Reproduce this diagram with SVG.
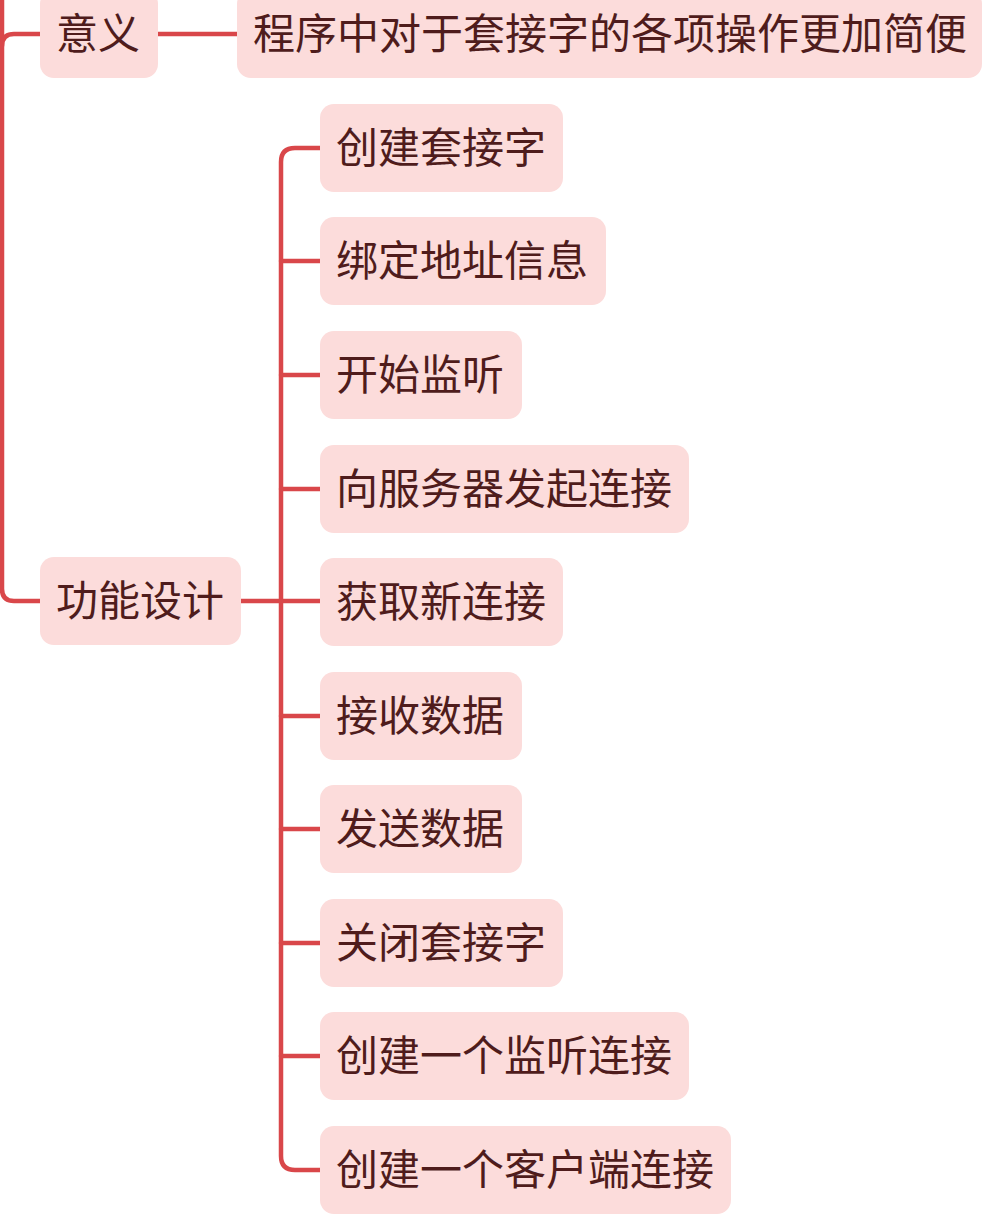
<svg xmlns="http://www.w3.org/2000/svg" width="1000" height="1228" viewBox="0 0 1000 1228">
<style>
.box{fill:#fcdcdb;}
.t{font-family:"Noto Sans CJK SC","Noto Sans",sans-serif;font-size:42px;fill:#4f1c1c;}
.ln{fill:none;stroke:#d9474a;stroke-width:4.5;stroke-linecap:round;}
</style>
<rect width="1000" height="1228" fill="#ffffff"/>
<g id="connectors">
<path class="ln" d="M2,-5 V589 Q2,601 14,601 H40"/>
<path class="ln" d="M2,46 Q2,34 14,34 H40"/>
<path class="ln" d="M158,34 H237"/>
<path class="ln" d="M241,601 H320"/>
<path class="ln" d="M320,148 H295 Q281,148 281,162 V1156 Q281,1170 295,1170 H320"/>
<path class="ln" d="M281,261 H320"/>
<path class="ln" d="M281,375 H320"/>
<path class="ln" d="M281,489 H320"/>
<path class="ln" d="M281,716 H320"/>
<path class="ln" d="M281,829 H320"/>
<path class="ln" d="M281,943 H320"/>
<path class="ln" d="M281,1056 H320"/>
</g>
<g id="n-yiyi"><rect class="box" x="40" y="-10" width="118" height="88" rx="14"/><text class="t" x="56" y="49">意义</text></g>
<g id="n-yiyi-desc"><rect class="box" x="237" y="-10" width="745" height="88" rx="14"/><text class="t" x="253" y="49">程序中对于套接字的各项操作更加简便</text></g>
<g id="n-gongneng"><rect class="box" x="40" y="557" width="201" height="88" rx="14"/><text class="t" x="56" y="616">功能设计</text></g>
<g id="n1"><rect class="box" x="320" y="104" width="243" height="88" rx="14"/><text class="t" x="336" y="163">创建套接字</text></g>
<g id="n2"><rect class="box" x="320" y="217" width="286" height="88" rx="14"/><text class="t" x="336" y="276">绑定地址信息</text></g>
<g id="n3"><rect class="box" x="320" y="331" width="202" height="88" rx="14"/><text class="t" x="336" y="390">开始监听</text></g>
<g id="n4"><rect class="box" x="320" y="445" width="369" height="88" rx="14"/><text class="t" x="336" y="504">向服务器发起连接</text></g>
<g id="n5"><rect class="box" x="320" y="558" width="243" height="88" rx="14"/><text class="t" x="336" y="617">获取新连接</text></g>
<g id="n6"><rect class="box" x="320" y="672" width="202" height="88" rx="14"/><text class="t" x="336" y="731">接收数据</text></g>
<g id="n7"><rect class="box" x="320" y="785" width="202" height="88" rx="14"/><text class="t" x="336" y="844">发送数据</text></g>
<g id="n8"><rect class="box" x="320" y="899" width="243" height="88" rx="14"/><text class="t" x="336" y="958">关闭套接字</text></g>
<g id="n9"><rect class="box" x="320" y="1012" width="369" height="88" rx="14"/><text class="t" x="336" y="1071">创建一个监听连接</text></g>
<g id="n10"><rect class="box" x="320" y="1126" width="411" height="88" rx="14"/><text class="t" x="336" y="1185">创建一个客户端连接</text></g>
</svg>
